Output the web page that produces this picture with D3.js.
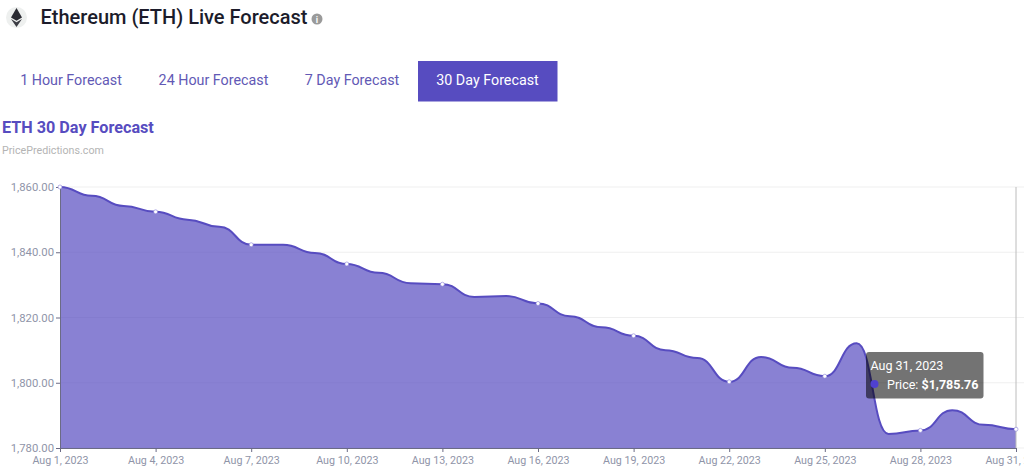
<!DOCTYPE html>
<html>
<head>
<meta charset="utf-8">
<script src="https://cdn.jsdelivr.net/npm/d3@7"></script>
<style>
  html, body { margin: 0; padding: 0; background: #fff; overflow: hidden; }
  svg { display: block; font-family: Roboto, sans-serif; }
  .tab { font-size: 14.3px; text-anchor: middle; }
  .axis text { fill: #8f94a8; font-family: Roboto, sans-serif; }
  .axis path, .axis line { stroke: #6b6b85; }
</style>
</head>
<body>
<div id="chart"></div>
<script>
var days = ["2023-08-01","2023-08-02","2023-08-03","2023-08-04","2023-08-05","2023-08-06","2023-08-07","2023-08-08",
  "2023-08-09","2023-08-10","2023-08-11","2023-08-12","2023-08-13","2023-08-14","2023-08-15","2023-08-16",
  "2023-08-17","2023-08-18","2023-08-19","2023-08-20","2023-08-21","2023-08-22","2023-08-23","2023-08-24",
  "2023-08-25","2023-08-26","2023-08-27","2023-08-28","2023-08-29","2023-08-30","2023-08-31"];
var prices = [1860, 1857.3, 1854.2, 1852.4, 1850, 1847.8, 1842.3, 1842.3,
  1839.8, 1836.4, 1833.7, 1830.5, 1830.2, 1826.3, 1826.6, 1824.3,
  1820.4, 1817, 1814.4, 1810, 1807.6, 1800.3, 1807.9, 1804.6,
  1802, 1812.1, 1784.3, 1785.4, 1791.6, 1787.1, 1785.76];
var yTicks = [1780, 1800, 1820, 1840, 1860];
var tabLabels = ["1 Hour Forecast", "24 Hour Forecast", "7 Day Forecast", "30 Day Forecast"];
var tabCenters = [71, 213.5, 352, 487.5];

var svgWidth = 1024;
var svgHeight = 471;
var margin = { top: 187, right: 8, bottom: 23, left: 60 };
var width = svgWidth - margin.left - margin.right;
var height = svgHeight - margin.top - margin.bottom;

var parseDay = d3.utcParse("%Y-%m-%d");
var formatDay = d3.utcFormat("%b %-d, %Y");
var dates = days.map(parseDay);

var svg = d3.select("#chart")
  .append("svg")
  .attr("width", svgWidth)
  .attr("height", svgHeight);

// Header
var logo = svg.append("g").attr("transform", "translate(16.5, 17.5)");
logo.append("circle").attr("r", 10.5).attr("fill", "#eef0ef");
logo.append("path").attr("d", "M0,-9.5 L5.5,0 L0,3.2 L-5.5,0 Z").attr("fill", "#2b2b33");
logo.append("path").attr("d", "M0,4.8 L5.5,1.5 L0,9.5 L-5.5,1.5 Z").attr("fill", "#3c3c44");

svg.append("text")
  .attr("x", 40.5).attr("y", 24)
  .attr("font-size", "20px").attr("font-weight", 500)
  .attr("fill", "#1c1c2b")
  .text("Ethereum (ETH) Live Forecast");

var info = svg.append("g").attr("transform", "translate(317, 19)");
info.append("circle").attr("r", 5.5).attr("fill", "#9a9a9a");
info.append("text").attr("y", 3.5).attr("text-anchor", "middle")
  .attr("font-size", "9px").attr("font-weight", 700).attr("fill", "#fff").text("i");

// Tabs
svg.append("rect")
  .attr("x", 418).attr("y", 61).attr("width", 139.5).attr("height", 40.5)
  .attr("fill", "#574cc0");

svg.selectAll(".tab")
  .data(tabLabels)
  .enter()
  .append("text")
  .attr("class", "tab")
  .attr("x", (d, i) => tabCenters[i])
  .attr("y", 85)
  .attr("fill", (d, i) => i == 3 ? "#fff" : "#6259b5")
  .text(d => d);

// Chart title
svg.append("text")
  .attr("x", 2).attr("y", 132.5)
  .attr("font-size", "16.2px").attr("font-weight", 700)
  .attr("fill", "#574cc0")
  .text("ETH 30 Day Forecast");

svg.append("text")
  .attr("x", 2).attr("y", 153.5)
  .attr("font-size", "10.7px")
  .attr("fill", "#b4b4b4")
  .text("PricePredictions.com");

var chartGroup = svg.append("g")
  .attr("transform", `translate(${margin.left}, ${margin.top})`);

var xScale = d3.scaleUtc()
  .domain(d3.extent(dates))
  .range([0, width]);

var yScale = d3.scaleLinear()
  .domain([1780, 1860])
  .range([height, 0]);

// Gridlines
chartGroup.append("g")
  .selectAll("line")
  .data(yTicks)
  .enter()
  .append("line")
  .attr("x1", 0)
  .attr("x2", width + 8)
  .attr("y1", d => yScale(d))
  .attr("y2", d => yScale(d))
  .attr("stroke", "#efefef");

// Area and line, flat at each day so the steps show
var area = d3.area()
  .x((d, i) => xScale(dates[i]))
  .y0(height)
  .y1(d => yScale(d))
  .curve(d3.curveBumpX);

var line = d3.line()
  .x((d, i) => xScale(dates[i]))
  .y(d => yScale(d))
  .curve(d3.curveBumpX);

chartGroup.append("path")
  .datum(prices)
  .attr("d", area)
  .attr("fill", "#574cc0")
  .attr("fill-opacity", 0.7);

chartGroup.append("path")
  .datum(prices)
  .attr("d", line)
  .attr("fill", "none")
  .attr("stroke", "#574cc0")
  .attr("stroke-width", 2);

// Crosshair on last point
chartGroup.append("line")
  .attr("x1", width).attr("x2", width)
  .attr("y1", 0).attr("y2", height)
  .attr("stroke", "#bcbcbc");

// Axes
var tickDates = dates.filter((d, i) => i % 3 == 0);

var bottomAxis = d3.axisBottom(xScale)
  .tickValues(tickDates)
  .tickFormat(formatDay)
  .tickSize(4)
  .tickPadding(4);

var leftAxis = d3.axisLeft(yScale)
  .tickValues(yTicks)
  .tickFormat(d3.format(",.2f"))
  .tickSize(4)
  .tickPadding(2);

chartGroup.append("g")
  .attr("class", "axis")
  .attr("font-size", null)
  .attr("transform", `translate(0, ${height})`)
  .call(bottomAxis)
  .selectAll("text")
  .style("font-size", "10.7px");

chartGroup.append("g")
  .attr("class", "axis")
  .call(leftAxis)
  .selectAll("text")
  .style("font-size", "11.3px");

// Markers, every third day
chartGroup.append("g")
  .selectAll("circle")
  .data(d3.range(0, days.length, 3))
  .enter()
  .append("circle")
  .attr("cx", d => xScale(dates[d]))
  .attr("cy", d => yScale(prices[d]))
  .attr("r", 2)
  .attr("fill", "#fff")
  .attr("stroke", "#8880d6")
  .attr("stroke-width", 0.6);

// Tooltip
var tip = svg.append("g").attr("transform", "translate(866, 352)");
tip.append("rect")
  .attr("width", 117.5).attr("height", 46.5).attr("rx", 3)
  .attr("fill", "#000").attr("fill-opacity", 0.55);
tip.append("text")
  .attr("x", 4.5).attr("y", 18)
  .attr("font-size", "12.5px").attr("fill", "#fff")
  .text(formatDay(dates[dates.length - 1]));
tip.append("circle")
  .attr("cx", 8.5).attr("cy", 32).attr("r", 4)
  .attr("fill", "#4f40d0");
var tipText = tip.append("text")
  .attr("x", 21).attr("y", 36.5)
  .attr("font-size", "12.5px").attr("fill", "#fff");
tipText.append("tspan").text("Price: ");
tipText.append("tspan").attr("font-weight", 700)
  .text("$" + d3.format(",.2f")(prices[prices.length - 1]));
</script>
</body>
</html>
